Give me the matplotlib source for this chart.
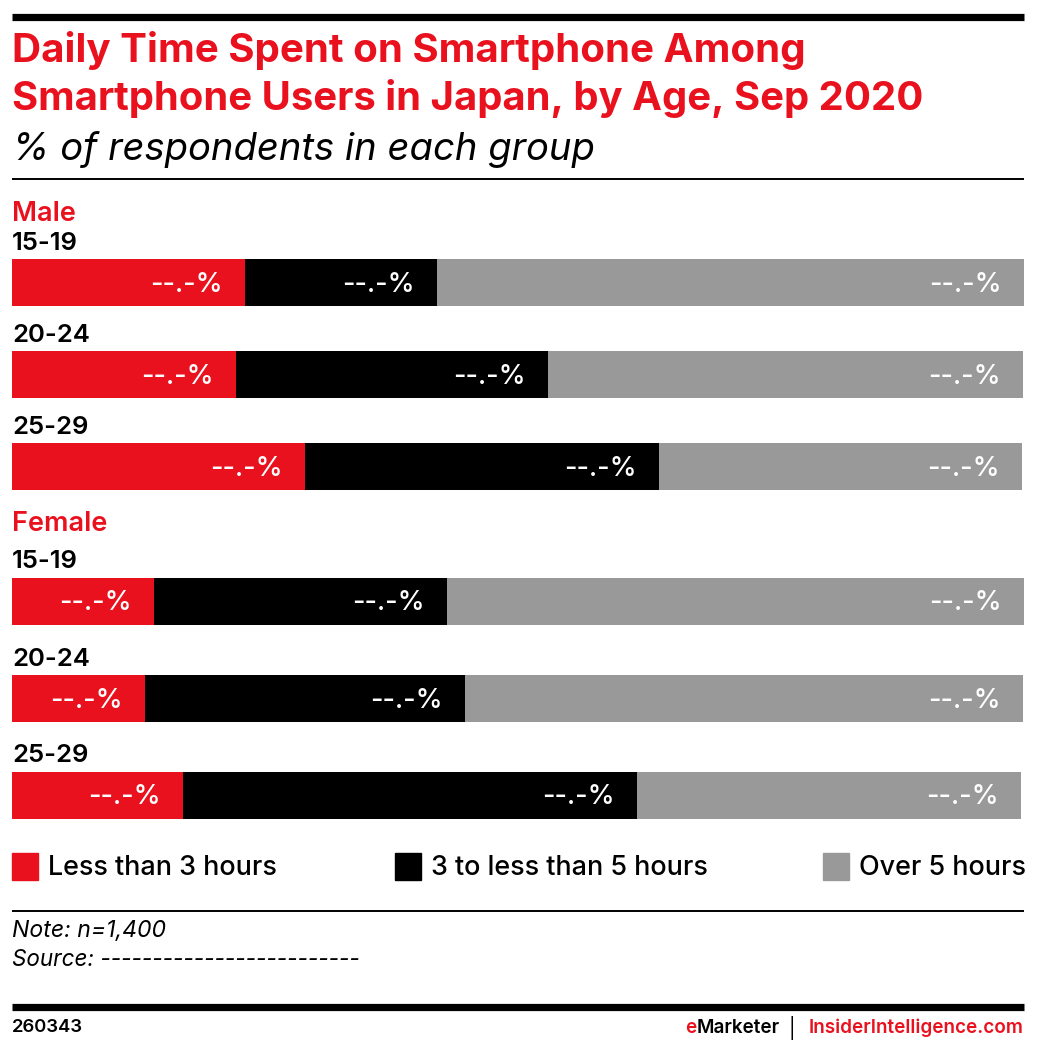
import matplotlib
matplotlib.use("Agg")
import matplotlib.pyplot as plt
from matplotlib.patches import Rectangle

W, H = 1038, 1053
RED = "#E9111E"
GRAY = "#999999"
FONT = "Inter"

groups = ["Male", "Female"]
ages = ["15-19", "20-24", "25-29"]
series = ["Less than 3 hours", "3 to less than 5 hours", "Over 5 hours"]
less3 = [23.0, 22.1, 29.0, 14.0, 13.1, 16.9]
mid3to5 = [19.0, 30.9, 34.9, 29.0, 31.7, 44.9]
over5 = [58.0, 46.9, 35.9, 57.0, 55.1, 37.9]
value_labels = ["--.-%"] * 6

colors = [RED, "black", GRAY]

fig = plt.figure(figsize=(W / 100, H / 100), dpi=100)
fig.patch.set_facecolor("white")

def px(x, y):
    return x / W, 1 - y / H

def text(x, y, s, **kw):
    kw.setdefault("family", FONT)
    return fig.text(x / W, 1 - y / H, s, **kw)

def hline(y, lw):
    fig.add_artist(plt.Line2D([12 / W, 1024 / W], [1 - y / H, 1 - y / H], color="black", lw=lw, solid_capstyle="butt"))

# rules
hline(16.5, 5.2)
hline(178.5, 1.4)
hline(910.5, 1.4)
hline(1006.5, 5.2)

# title
text(12, 50, "Daily Time Spent on Smartphone Among", color=RED, fontsize=29.0, fontweight="bold", va="center")
text(12, 99, "Smartphone Users in Japan, by Age, Sep 2020", color=RED, fontsize=28.8, fontweight="bold", va="center")
text(12, 150, "% of respondents in each group", color="black", fontsize=27.5, style="italic", va="center")

# bar axes in pixel y coordinates
ax = fig.add_axes([12 / W, 0, 1012 / W, 1])
ax.set_xlim(0, 100)
ax.set_ylim(H, 0)
ax.axis("off")

bar_y = [282.5, 374.5, 466.5, 601.5, 698.5, 795.5]
age_y = [243, 336, 428, 562, 659, 756]
group_y = [214, 524]
bar_h = 47

for gi, g in enumerate(groups):
    text(12, group_y[gi], g, color=RED, fontsize=19.5, fontweight="semibold", va="center")

left = [0.0] * 6
for si, vals in enumerate([less3, mid3to5, over5]):
    ax.barh(bar_y, vals, left=left, height=bar_h, color=colors[si], edgecolor="none")
    for i, v in enumerate(vals):
        right = left[i] + v
        ax.text(right - 2.2, bar_y[i] + 2, value_labels[i], color="white", fontsize=19.5,
                ha="right", va="center", family=FONT, fontweight="medium")
    left = [l + v for l, v in zip(left, vals)]

for i in range(6):
    text(12, age_y[i], ages[i % 3], color="black", fontsize=18.5, fontweight="semibold", va="center")

# legend
leg_x = [12, 395, 823]
for si, s in enumerate(series):
    fig.add_artist(Rectangle(px(leg_x[si], 880), 26 / W, 27 / H, color=colors[si], transform=fig.transFigure))
    text(leg_x[si] + 36, 868, s, color="black", fontsize=19.4, va="center", fontweight="medium")

# notes
text(12, 931, "Note: n=1,400", fontsize=16.6, style="italic", va="center")
text(12, 960, "Source: -------------------------", fontsize=16.2, style="italic", va="center")

# footer
text(12, 1028, "260343", fontsize=13.3, fontweight="semibold", va="center")
fig.text(1024 / W, 1 - 1028 / H, "InsiderIntelligence.com", color=RED, fontsize=13.6, fontweight="semibold",
         ha="right", va="center", family=FONT)
text(792, 1028, "|", fontsize=14, va="center", ha="center")
t_m = text(780, 1028, "Marketer", fontsize=13.6, fontweight="semibold", va="center", ha="right")
fig.canvas.draw()
bb = t_m.get_window_extent()
fig.text(bb.x0 / W, 1 - 1028 / H, "e", color=RED, fontsize=13.6, fontweight="semibold",
         ha="right", va="center", family=FONT)

fig.savefig("out.png", dpi=100, facecolor="white")
